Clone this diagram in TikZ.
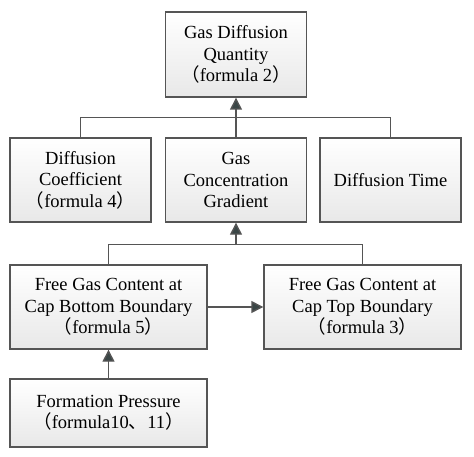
\documentclass[tikz,border=0pt]{standalone}
\usepackage{fontspec}
\setmainfont{Liberation Serif}
\newfontfamily\cjk{Noto Sans CJK SC}
\usepackage{tikz}
\usetikzlibrary{arrows.meta}
\definecolor{edgegray}{HTML}{555555}
\definecolor{tipgray}{HTML}{3A4646}
\newcommand{\zlp}{{\cjk （}}
\newcommand{\zrp}{{\cjk ）}}

\begin{document}
\begin{tikzpicture}[x=1pt, y=1pt,
  box/.style={draw=edgegray, line width=1.4pt, top color=white,
    bottom color=black!9, align=center, inner sep=2pt,
    font=\fontsize{18.5}{21.5}\selectfont},
  wide/.style={box, minimum width=197pt, minimum height=84pt},
  narrow/.style={box, minimum width=141pt, minimum height=84pt},
  link/.style={draw=edgegray, line width=1.4pt},
  >={Triangle[length=12pt, width=12pt, fill=tipgray]}]
  \useasboundingbox (0,0) rectangle (474,456);
  \node[narrow, minimum height=85pt] (qty) at (236,401.5)
    {Gas Diffusion\\Quantity\\\zlp formula 2\zrp};
  \node[narrow] (coef) at (80.5,276) {Diffusion\\Coefficient\\\zlp formula 4\zrp};
  \node[narrow] (grad) at (236,276) {Gas\\Concentration\\Gradient};
  \node[narrow] (time) at (390.5,276) {Diffusion Time};
  \node[wide] (capbot) at (108.5,149)
    {Free Gas Content at\\Cap Bottom Boundary\\\zlp formula 5\zrp};
  \node[wide] (captop) at (362.5,149)
    {Free Gas Content at\\Cap Top Boundary\\\zlp formula 3\zrp};
  \node[wide, minimum height=68pt] (pres) at (108.5,43)
    {Formation Pressure\\\zlp formula10{\cjk 、}11\zrp};
  \coordinate (j2) at (236,211);
  \draw[link] (coef.north) -- ++(0,20) -| (time.north);
  \draw[link, ->] (grad.north) -- (qty.south);
  \draw[link] (capbot.north) -- ++(0,20) -| (captop.north);
  \draw[link, ->] (j2) -- (grad.south);
  \draw[link, ->] (capbot) -- (captop);
  \draw[link, ->] (pres) -- (capbot);
\end{tikzpicture}
\end{document}
